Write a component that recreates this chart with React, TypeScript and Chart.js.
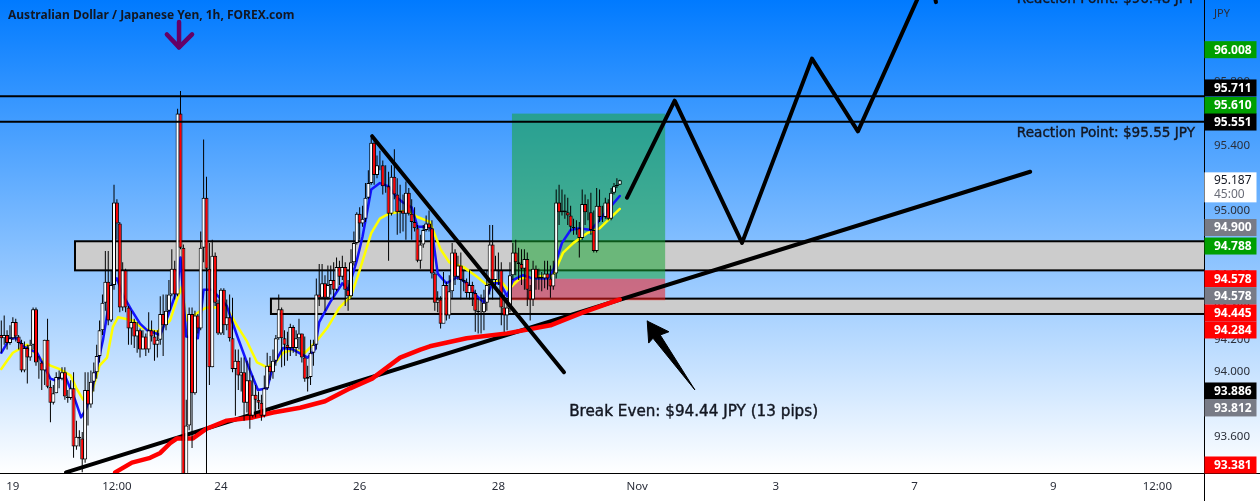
import React, { useEffect, useRef } from "react";
import { Chart, registerables } from "chart.js";

Chart.register(...registerables);

const closes = [94.21,94.23,94.18,94.21,94.31,94.22,94.18,94.01,94.15,94.09,94.17,94.39,94.06,94.06,94.01,94.20,93.91,93.81,93.87,93.97,93.96,94.00,93.85,93.84,93.90,93.54,93.60,93.59,93.46,93.89,93.80,93.94,94.00,94.10,94.26,94.43,94.56,94.32,94.54,95.05,94.92,94.40,94.63,94.40,94.27,94.31,94.22,94.26,94.14,94.22,94.14,94.26,94.22,94.17,94.20,94.36,94.29,94.38,94.48,94.64,94.48,95.60,94.77,93.27,93.67,94.36,93.87,94.35,94.27,94.77,95.08,94.64,94.03,94.72,94.43,94.24,94.51,94.29,94.34,94.21,94.02,94.07,93.98,94.00,93.81,93.95,93.73,93.86,93.83,93.81,93.73,93.90,94.04,94.00,94.07,94.21,94.39,94.21,94.17,94.15,94.28,94.15,94.21,94.24,94.09,93.96,93.97,94.12,94.17,94.48,94.46,94.55,94.46,94.54,94.57,94.51,94.65,94.59,94.65,94.51,94.47,94.68,94.80,94.98,94.92,94.95,95.08,95.17,95.42,95.22,95.28,95.28,95.15,95.15,94.98,95.21,95.10,94.99,95.00,94.98,95.11,94.98,94.93,94.89,94.69,94.79,94.88,94.92,94.89,94.61,94.43,94.45,94.30,94.54,94.35,94.50,94.74,94.59,94.66,94.57,94.56,94.49,94.54,94.49,94.38,94.37,94.37,94.43,94.54,94.79,94.57,94.63,94.63,94.40,94.35,94.40,94.60,94.74,94.68,94.67,94.64,94.70,94.51,94.45,94.64,94.58,94.59,94.58,94.61,94.58,94.53,94.61,95.05,94.99,95.00,94.99,94.97,94.90,94.89,94.89,94.83,95.04,94.99,94.99,94.88,94.75,95.03,94.96,94.96,95.05,94.95,95.11,95.15,95.16,95.187];
const highs = [94.32,94.35,94.26,94.29,94.34,94.33,94.23,94.20,94.19,94.17,94.20,94.40,94.40,94.10,94.07,94.20,94.33,93.95,93.92,94.00,94.01,94.03,94.03,93.89,93.95,94.00,93.70,93.64,93.63,94.00,94.00,94.01,94.06,94.17,94.32,94.48,94.75,94.75,94.63,95.16,95.07,94.93,94.68,94.64,94.41,94.38,94.33,94.31,94.27,94.26,94.24,94.37,94.32,94.26,94.26,94.47,94.48,94.48,94.57,94.76,94.69,95.63,95.74,94.79,93.83,94.40,94.40,94.38,94.36,94.87,95.44,95.21,94.80,94.82,94.74,94.45,94.52,94.52,94.45,94.48,94.46,94.14,94.14,94.09,94.09,94.07,94.09,93.98,93.92,93.88,93.86,93.98,94.12,94.10,94.14,94.23,94.48,94.40,94.26,94.25,94.30,94.29,94.26,94.33,94.24,94.22,94.04,94.20,94.20,94.58,94.67,94.67,94.60,94.66,94.66,94.68,94.71,94.69,94.72,94.68,94.57,94.76,94.87,94.99,95.02,95.03,95.17,95.25,95.45,95.44,95.34,95.37,95.31,95.28,95.24,95.28,95.38,95.20,95.16,95.10,95.18,95.14,95.07,95.02,94.91,94.85,94.91,94.97,95.00,94.94,94.62,94.50,94.47,94.62,94.56,94.60,94.80,94.76,94.72,94.74,94.63,94.58,94.63,94.56,94.51,94.46,94.48,94.51,94.63,94.91,94.91,94.72,94.74,94.68,94.48,94.45,94.68,94.80,94.82,94.77,94.76,94.76,94.74,94.54,94.69,94.66,94.64,94.62,94.69,94.69,94.66,94.69,95.13,95.16,95.13,95.10,95.08,95.03,94.95,94.94,94.93,95.13,95.10,95.07,95.11,95.00,95.14,95.13,95.03,95.08,95.07,95.14,95.17,95.20,95.19];
const lows = [94.12,94.17,94.14,94.17,94.20,94.19,94.14,94.00,94.00,93.93,94.07,94.14,94.04,93.96,93.89,93.92,93.90,93.69,93.80,93.87,93.90,93.95,93.83,93.81,93.83,93.47,93.52,93.54,93.38,93.44,93.67,93.78,93.88,93.96,94.06,94.23,94.38,94.29,94.31,94.51,94.82,94.37,94.38,94.37,94.17,94.17,94.15,94.12,94.09,94.14,94.10,94.12,94.19,94.07,94.09,94.17,94.10,94.26,94.37,94.47,94.45,94.47,94.76,93.20,93.20,93.64,93.53,93.86,94.24,94.26,94.68,93.20,93.92,94.03,94.41,94.23,94.23,94.23,94.26,94.19,94.00,93.73,93.89,93.88,93.70,93.75,93.65,93.72,93.72,93.77,93.70,93.72,93.89,93.95,93.96,94.04,94.20,94.03,94.04,94.07,94.10,94.12,94.10,94.14,94.06,93.94,93.88,93.92,94.04,94.14,94.41,94.46,94.38,94.45,94.48,94.45,94.50,94.54,94.57,94.41,94.38,94.46,94.66,94.79,94.82,94.90,94.93,95.07,95.16,95.16,95.20,95.25,95.10,95.11,94.69,94.97,95.07,94.85,94.86,94.87,94.82,94.97,94.82,94.87,94.68,94.64,94.77,94.87,94.87,94.58,94.38,94.37,94.27,94.38,94.32,94.33,94.46,94.54,94.57,94.45,94.50,94.46,94.45,94.41,94.25,94.24,94.24,94.26,94.38,94.48,94.45,94.51,94.54,94.29,94.25,94.26,94.37,94.57,94.60,94.57,94.54,94.51,94.41,94.32,94.41,94.51,94.51,94.50,94.52,94.51,94.46,94.51,94.58,94.91,94.97,94.95,94.91,94.87,94.85,94.85,94.71,94.82,94.91,94.94,94.85,94.74,94.74,94.93,94.93,94.95,94.94,94.94,95.10,95.14,95.16];
const firstOpen = 94.23;

const blueBars = [0,3,5.4,7.5,12.4,17,18.6,22,25.5,27.6,29.3,31.7,35.2,38.3,40,42,45.2,48,50.4,55,57.7,60.8,62,64,68,70,73,78,81.5,85.4,88.8,92,94,97.5,101,106,108.5,110,113.7,118,120,123,125,128,131,134,137,139,142,144,148,149,151,154,158,161,164.6,167,170,172.6,175,177,180.5,184,189,191,194,197,200,204,207,210.6,214];
const bluePrices = [94.12,94.21,94.21,94.16,94.12,93.96,93.95,93.98,93.83,93.72,93.77,93.92,94.20,94.54,94.58,94.48,94.38,94.30,94.26,94.23,94.35,94.51,94.71,94.22,94.21,94.51,94.51,94.41,94.23,94.04,93.89,93.90,94.04,94.15,94.14,94.09,94.14,94.31,94.43,94.55,94.51,94.69,94.84,95.13,95.17,95.15,95.08,95.05,95.02,94.90,94.90,94.88,94.61,94.55,94.59,94.55,94.47,94.43,94.55,94.55,94.47,94.57,94.60,94.58,94.58,94.63,94.80,94.88,94.89,94.88,94.94,95.02,95.09];
const yellowBars = [0,2,4,9,12.4,17,20,24,26,28.3,31.4,34,36.6,38.6,40.4,45.6,49,54,58.4,60.8,62.5,64,69,71,78,81.5,85,88.5,92,95.4,97.5,101,105,109,113,117,121,124,128,131,134,140.4,144,148.3,152,155,160,164.6,168,172.6,175.3,179.5,184,191,194.4,198,202.7,207,214];
const yellowPrices = [94.02,94.07,94.12,94.17,94.10,94.04,94.02,93.98,93.90,93.83,93.88,94.04,94.09,94.28,94.34,94.32,94.27,94.25,94.32,94.45,94.53,94.32,94.38,94.40,94.40,94.29,94.19,94.06,94.03,94.07,94.12,94.14,94.12,94.19,94.28,94.40,94.47,94.63,94.86,94.95,94.98,95.00,94.96,94.93,94.76,94.68,94.65,94.59,94.54,94.57,94.51,94.58,94.59,94.60,94.74,94.80,94.86,94.89,95.01];
const redBars = [39.4,45.2,51.5,55,58.4,60.8,66.3,71,78,87,94,103.4,112,120.7,128.3,138,145,148.3,161,175,190,201.3,214];
const redPrices = [93.38,93.44,93.47,93.50,93.56,93.59,93.59,93.65,93.70,93.72,93.75,93.78,93.82,93.90,93.96,94.09,94.14,94.16,94.21,94.24,94.29,94.37,94.45];

const riseBars = [22.4,356];
const risePrices = [93.38,95.24];
const fallBars = [128.3,194.7];
const fallPrices = [95.46,94.00];
const pathBars = [216.5,233,256.3,280.5,296.4,321.3,323.4];
const pathPrices = [95.08,95.68,94.80,95.94,95.49,96.48,96.29];
const levelBars = [-1,417];
const levelHigh = 95.707;
const levelLow = 95.549;
const arrowBars = [223.5,231,228,240,225.5,224,223.5];
const arrowPrices = [94.316,94.25,94.23,93.89,94.21,94.18,94.316];
const markShaftBars = [61.5,61.5];
const markShaftPrices = [96.167,96.01];
const markHeadBars = [57.3,61.5,66];
const markHeadPrices = [96.09,96.01,96.09];

const zoneStartBars = [25.5,93.3];
const zoneTop = [94.81,94.455];
const zoneBottom = [94.63,94.36];
const tradeBars = [176.7,229.7];
const tradeTop = 95.6;
const tradeEntry = 94.578;
const tradeStop = 94.445;

const priceTicks = [93.4,93.6,93.8,94.0,94.2,94.4,94.6,94.8,95.0,95.2,95.4,95.6,95.8,96.0];
const timeTickBars = [4,40,76,124,172,220,268,316,364,400];
const timeTickLabels = ["19","12:00","24","26","28","Nov","3","7","9","12:00"];

const tagPrices = [96.008,95.711,95.61,95.551,94.9,94.788,94.578,94.578,94.445,94.284,93.886,93.812,93.381];
const tagColors = ["#009f00","#000000","#009f00","#000000","#787b86","#009f00","#ff0000","#787b86","#ff0000","#ff0000","#000000","#787b86","#ff0000"];
const tagShift = [2,-7.7,-6.5,0.5,0.8,1.2,0,17,12.7,3.7,0.4,5.4,-7.2];
const lastPrice = 95.187;
const countdown = "45:00";
const title = "Australian Dollar / Japanese Yen, 1h, FOREX.com";
const notes = ["Reaction Point: $96.48 JPY","Reaction Point: $95.55 JPY","Break Even: $94.44 JPY (13 pips)"];
const noteBars = [351.4,351.4,196.5];
const notePrices = [96.305,95.48,93.755];
const noteSizes = [13.6,13.6,15.2];

const opens = closes.map((_, i) => (i === 0 ? firstOpen : closes[i - 1]));
const pts = (xs: number[], ys: number[]) => xs.map((x, i) => ({ x, y: ys[i] }));

const lineSet = (xs: number[], ys: number[], color: string, width: number, order: number) => ({
  type: "line" as const,
  data: pts(xs, ys),
  borderColor: color,
  backgroundColor: color,
  borderWidth: width,
  pointRadius: 0,
  tension: 0,
  fill: false,
  order,
  borderCapStyle: "round" as const,
  borderJoinStyle: "round" as const,
});

const chartFace = {
  id: "chartFace",
  beforeDraw(chart: any) {
    const { ctx, width, chartArea, scales } = chart;
    const { x, y } = scales;
    const g = ctx.createLinearGradient(0, 0, 0, chartArea.bottom);
    g.addColorStop(0, "#007aff");
    g.addColorStop(1, "#ffffff");
    ctx.save();
    ctx.fillStyle = g;
    ctx.fillRect(0, 0, width, chartArea.bottom);
    ctx.fillStyle = "#cccccc";
    ctx.strokeStyle = "#000000";
    ctx.lineWidth = 2;
    zoneStartBars.forEach((b, i) => {
      const l = x.getPixelForValue(b);
      const t = y.getPixelForValue(zoneTop[i]);
      const h = y.getPixelForValue(zoneBottom[i]) - t;
      const w = chartArea.right + 4 - l;
      ctx.save();
      ctx.beginPath();
      ctx.rect(0, 0, chartArea.right, chartArea.bottom);
      ctx.clip();
      ctx.fillRect(l, t, w, h);
      ctx.strokeRect(l, t, w, h);
      ctx.restore();
    });
    const tl = x.getPixelForValue(tradeBars[0]);
    const tw = x.getPixelForValue(tradeBars[1]) - tl;
    const t0 = y.getPixelForValue(tradeTop);
    const t1 = y.getPixelForValue(tradeEntry);
    const t2 = y.getPixelForValue(tradeStop);
    ctx.fillStyle = "rgba(20,165,50,0.53)";
    ctx.fillRect(tl, t0, tw, t1 - t0);
    ctx.fillStyle = "rgba(240,30,30,0.55)";
    ctx.fillRect(tl, t1, tw, t2 - t1);
    ctx.restore();
  },
  afterDraw(chart: any) {
    const { ctx, width, height, chartArea, scales } = chart;
    const { x, y } = scales;
    ctx.save();
    ctx.strokeStyle = "#000000";
    ctx.lineWidth = 1;
    ctx.beginPath();
    ctx.moveTo(chartArea.right + 0.5, 0);
    ctx.lineTo(chartArea.right + 0.5, height);
    ctx.moveTo(0, chartArea.bottom + 0.5);
    ctx.lineTo(width, chartArea.bottom + 0.5);
    ctx.stroke();

    const left = chartArea.right;
    const tagW = 52;
    ctx.textBaseline = "middle";
    ctx.font = "bold 12px 'Noto Sans'";
    tagPrices.forEach((p, i) => {
      const cy = y.getPixelForValue(p) + tagShift[i];
      ctx.fillStyle = tagColors[i];
      ctx.fillRect(left + 0.5, cy - 8.5, tagW, 17);
      ctx.fillStyle = "#ffffff";
      ctx.fillText(p.toFixed(3), left + 10, cy + 0.5);
    });
    const ly = y.getPixelForValue(lastPrice) - 8;
    ctx.fillStyle = "#ffffff";
    ctx.fillRect(left + 0.5, ly, tagW, 30);
    ctx.font = "12px 'Noto Sans'";
    ctx.fillStyle = "#131722";
    ctx.fillText(lastPrice.toFixed(3), left + 10, ly + 8);
    ctx.fillStyle = "#6a6d78";
    ctx.fillText(countdown, left + 10, ly + 22);
    ctx.fillStyle = "#2a2e39";
    ctx.font = "11px 'Noto Sans'";
    ctx.fillText("JPY", left + 10, 14);

    ctx.fillStyle = "#131722";
    ctx.font = "bold 12px 'Noto Sans'";
    ctx.fillText(title, 8, 16);

    ctx.strokeStyle = "#131722";
    ctx.lineWidth = 0.4;
    notes.forEach((n, i) => {
      const px = x.getPixelForValue(noteBars[i]);
      const py = y.getPixelForValue(notePrices[i]);
      ctx.font = `${noteSizes[i]}px 'DejaVu Sans'`;
      ctx.fillText(n, px, py);
      ctx.strokeText(n, px, py);
    });
    ctx.restore();
  },
};

export default function App() {
  const ref = useRef<HTMLCanvasElement>(null);
  useEffect(() => {
    document.body.style.margin = "0";
    const wicks = closes.map((_, i) => ({ x: i, y: [lows[i], highs[i]] }));
    const bodies = closes.map((c, i) => ({ x: i, y: [opens[i], c] }));
    const fills = closes.map((c, i) => (c >= opens[i] ? "#ffffff" : "#ff0000"));
    const chart = new Chart(ref.current as HTMLCanvasElement, {
      type: "bar",
      data: {
        datasets: [
          lineSet(riseBars, risePrices, "#000000", 4, 25),
          lineSet(redBars, redPrices, "#ff0000", 4.5, 24),
          lineSet(yellowBars, yellowPrices, "#ffff00", 2.5, 23),
          lineSet(blueBars, bluePrices, "#1414ff", 2.5, 22),
          { data: wicks as any, backgroundColor: "#000000", borderWidth: 0, barThickness: 1, grouped: false, order: 20, inflateAmount: 0 } as any,
          { data: bodies as any, backgroundColor: fills, borderColor: "#000000", borderWidth: 1, borderSkipped: false, barThickness: 4, grouped: false, order: 19, inflateAmount: 0 } as any,
          lineSet(fallBars, fallPrices, "#000000", 4, 7),
          lineSet(pathBars, pathPrices, "#000000", 4, 6),
          lineSet(levelBars, [levelHigh, levelHigh], "#000000", 2, 5),
          lineSet(levelBars, [levelLow, levelLow], "#000000", 2, 5),
          { ...lineSet(arrowBars, arrowPrices, "#000000", 1, 4), fill: "shape" },
          lineSet(markShaftBars, markShaftPrices, "#660066", 4.5, 3),
          lineSet(markHeadBars, markHeadPrices, "#660066", 4.5, 3),
        ] as any,
      },
      plugins: [chartFace],
      options: {
        animation: false,
        responsive: false,
        devicePixelRatio: 1,
        layout: { padding: 0 },
        plugins: { legend: { display: false }, tooltip: { enabled: false }, title: { display: false } },
        scales: {
          x: {
            type: "linear",
            offset: false,
            min: -0.45,
            max: 416.15,
            grid: { display: false, offset: false, drawTicks: false },
            border: { display: false },
            afterBuildTicks(s: any) {
              s.ticks = timeTickBars.map((value) => ({ value }));
            },
            afterFit(s: any) {
              s.height = 28;
              s.paddingLeft = 0;
              s.paddingRight = 0;
            },
            ticks: {
              autoSkip: false,
              maxRotation: 0,
              padding: 7,
              color: "#2a2e39",
              font: { family: "'Noto Sans'", size: 11.5 },
              callback: (v: any) => timeTickLabels[timeTickBars.indexOf(Number(v))] ?? "",
            },
          },
          y: {
            type: "linear",
            position: "right",
            min: 93.376,
            max: 96.303,
            beginAtZero: false,
            grid: { display: false, drawTicks: false },
            border: { display: false },
            afterBuildTicks(s: any) {
              s.ticks = priceTicks.map((value) => ({ value }));
            },
            afterFit(s: any) {
              s.width = 56;
              s.paddingTop = 0;
              s.paddingBottom = 0;
            },
            ticks: {
              autoSkip: false,
              padding: 10,
              color: "#2a2e39",
              font: { family: "'Noto Sans'", size: 11.5 },
              callback: (v: any) => Number(v).toFixed(3),
            },
          },
        },
      } as any,
    });
    return () => chart.destroy();
  }, []);
  return <canvas ref={ref} width={1260} height={501} style={{ display: "block" }} />;
}
